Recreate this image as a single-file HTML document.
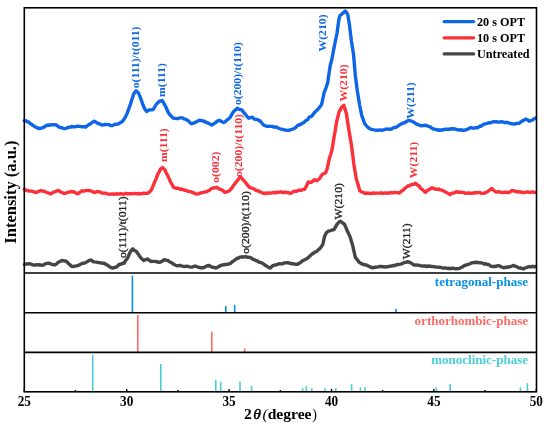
<!DOCTYPE html>
<html><head><meta charset="utf-8"><style>html,body{margin:0;padding:0;background:#fff;}svg{display:block;}</style></head><body>
<svg width="550" height="427" viewBox="0 0 550 427">
<rect width="550" height="427" fill="#fff"/>
<g fill="none" stroke-width="3.4" stroke-linejoin="round" stroke-linecap="round">
<polyline stroke="#454545" points="24.5,264.5 26.0,264.0 27.6,264.0 29.1,263.7 30.6,264.0 32.1,264.7 33.6,265.0 35.1,265.1 36.7,264.6 38.2,265.0 40.0,264.8 41.8,265.5 43.6,264.9 45.5,263.7 47.0,263.4 48.5,263.3 50.0,263.5 51.5,264.4 53.0,264.5 54.5,265.0 56.4,264.0 58.2,262.3 60.0,261.4 61.8,260.5 63.6,260.9 65.5,261.0 66.8,261.8 68.2,263.2 70.0,264.9 71.8,266.3 73.3,266.5 74.9,266.1 76.4,265.9 77.9,265.5 79.4,264.9 80.9,264.1 82.4,263.2 84.0,263.3 85.5,262.6 87.0,261.8 88.5,260.8 90.0,260.1 91.5,260.3 93.0,261.6 94.5,261.9 96.3,262.1 98.2,262.6 100.0,262.6 101.5,263.1 103.0,263.2 104.5,263.2 106.0,264.6 107.6,265.2 109.1,266.3 110.9,267.5 112.7,268.1 114.2,267.5 115.8,267.3 117.3,266.3 119.4,264.3 120.9,264.3 122.5,263.3 124.0,263.4 125.9,260.2 127.8,257.7 129.2,254.2 130.6,251.2 132.8,248.9 134.5,250.5 136.2,251.2 138.1,253.9 140.0,256.8 141.8,258.8 143.7,260.5 145.6,259.6 147.5,259.0 149.3,260.3 151.2,261.5 152.8,261.4 154.3,261.4 155.9,261.5 157.8,262.0 159.6,262.4 161.2,261.5 162.7,260.9 164.3,259.6 166.2,260.2 168.0,260.5 169.9,262.0 171.8,262.8 173.7,264.3 175.5,265.2 176.9,265.8 178.3,265.7 179.8,265.3 181.2,265.8 182.6,266.2 184.0,266.4 185.4,266.5 186.8,266.2 188.7,266.7 190.5,267.1 192.4,267.0 194.2,266.2 196.1,266.2 198.1,267.2 200.0,267.7 201.8,267.8 203.6,267.7 205.4,266.8 207.3,265.8 209.1,265.5 210.7,266.5 212.3,267.2 213.9,267.1 215.5,268.1 217.0,267.6 218.5,266.6 220.0,265.9 221.8,265.1 223.7,264.8 225.5,264.5 227.3,264.3 229.1,264.0 230.9,263.2 232.4,261.6 234.0,260.8 235.5,259.5 237.0,258.3 238.5,258.2 240.0,257.2 241.8,256.8 243.7,257.1 245.5,256.5 247.3,257.3 249.1,257.3 250.9,257.7 252.4,259.1 254.0,259.4 255.5,260.5 257.0,260.7 258.5,261.8 260.0,262.3 261.8,262.9 263.7,264.2 265.5,265.5 267.0,266.3 268.5,267.3 270.0,268.1 271.5,266.8 273.0,265.6 274.5,265.0 276.3,264.9 278.2,264.0 280.0,263.7 281.5,263.9 282.9,263.6 284.4,262.9 285.8,262.8 287.3,262.6 289.1,263.0 290.9,263.5 292.7,263.7 294.3,264.0 295.9,264.2 297.5,264.3 299.1,263.3 300.6,262.4 302.2,260.9 303.8,260.2 305.3,259.4 306.9,258.7 308.8,257.2 310.6,255.3 312.2,254.0 313.7,253.0 315.3,252.1 316.9,251.3 318.4,249.7 320.0,248.4 321.4,246.5 322.8,244.6 324.6,236.2 326.5,232.5 328.4,231.1 330.3,230.6 332.1,230.0 334.0,229.6 335.4,227.2 336.8,224.6 338.5,222.5 340.2,221.2 341.6,222.2 342.9,223.2 344.3,224.0 345.7,226.9 347.1,230.6 348.5,233.5 349.9,236.2 351.3,240.9 352.7,245.6 354.1,251.8 355.5,257.7 357.4,259.9 359.3,262.4 360.9,263.4 362.4,264.1 364.0,264.7 365.6,264.8 367.1,265.3 368.7,266.2 370.2,266.9 371.8,267.6 373.3,267.7 374.9,267.2 376.6,267.1 378.2,266.9 379.9,266.5 381.3,266.5 382.7,266.7 384.1,266.8 385.5,267.1 387.0,266.7 388.6,266.6 390.1,266.1 391.6,266.0 393.4,265.5 395.1,265.5 396.9,264.5 398.6,264.6 400.4,264.2 401.8,263.9 403.3,263.0 404.7,262.4 406.2,262.4 407.6,261.6 409.1,262.1 410.5,262.7 412.0,263.6 413.4,264.6 414.9,265.1 416.6,264.9 418.4,265.3 420.1,265.5 421.9,266.1 423.6,266.0 425.3,266.0 427.0,266.5 428.7,266.0 430.4,266.2 432.1,266.6 433.8,266.5 435.5,267.1 437.3,267.1 439.0,267.2 440.8,267.4 442.5,268.0 444.1,268.1 445.8,267.9 447.5,268.5 449.1,268.3 450.6,268.7 452.1,268.1 453.6,268.3 455.2,268.8 456.7,268.7 458.2,268.6 459.7,268.3 461.2,267.3 462.7,266.8 464.2,265.7 465.8,265.1 467.3,264.6 469.1,264.2 470.9,263.2 472.7,262.7 474.6,262.5 476.4,262.3 478.0,262.5 479.5,262.7 481.1,262.9 482.7,263.2 484.2,264.0 485.8,263.8 487.3,264.6 489.1,264.8 490.9,266.3 492.7,266.5 494.5,266.5 496.4,266.3 498.2,265.5 499.8,266.0 501.4,267.0 502.9,267.5 504.5,267.7 506.0,267.1 507.6,267.3 509.1,266.8 510.6,266.6 512.1,266.0 513.6,265.4 515.1,266.2 516.7,266.7 518.2,267.7 520.0,268.0 521.8,268.3 523.6,269.0 525.1,267.9 526.7,267.6 528.2,266.8 529.7,266.5 531.1,267.0 532.6,266.2 534.0,266.9 535.5,266.5"/>
<polyline stroke="#fb3038" points="24.4,189.3 26.2,190.3 28.0,190.8 29.8,191.0 31.6,191.1 33.5,191.6 35.3,192.5 37.1,192.1 38.9,191.3 40.7,190.4 42.2,191.0 43.6,191.1 45.1,191.7 46.9,192.5 48.7,193.2 50.5,193.8 52.0,193.2 53.6,192.1 55.1,191.7 56.7,191.0 58.2,190.4 60.0,191.5 61.8,192.7 63.6,193.2 65.1,193.4 66.5,192.7 68.0,192.4 69.5,192.0 70.9,191.5 72.4,191.7 74.2,192.0 76.0,193.1 77.8,193.8 79.3,192.6 80.7,191.7 82.2,190.8 83.8,191.1 85.5,190.6 87.1,190.6 88.7,190.4 90.5,190.9 92.4,191.4 94.2,192.5 95.6,192.1 97.1,191.6 98.5,191.7 100.3,192.1 102.0,193.0 103.8,193.1 105.5,193.1 107.3,193.8 109.0,194.2 110.8,194.1 112.5,194.0 114.3,194.2 116.0,193.8 117.6,194.0 119.3,194.0 120.9,193.6 122.5,194.1 124.2,194.1 125.8,193.3 127.5,193.9 129.1,193.6 130.8,193.8 132.4,193.5 134.1,193.6 135.7,193.5 137.3,193.9 139.0,193.5 140.7,193.8 142.3,193.5 143.9,193.2 145.6,193.4 147.2,193.3 148.8,192.7 150.2,191.1 151.7,189.5 153.1,185.9 154.6,182.2 156.1,178.9 157.5,174.9 159.0,172.2 160.5,169.1 162.6,167.6 164.8,169.8 166.2,172.7 167.7,175.6 169.1,178.6 170.6,182.2 172.1,184.6 173.5,187.3 175.3,188.0 177.2,188.3 178.6,188.3 180.1,189.3 181.6,189.0 183.0,189.5 184.5,190.3 185.9,190.2 187.4,191.2 188.8,191.4 190.3,191.6 191.9,192.2 193.6,192.9 195.2,193.6 196.8,194.1 198.5,193.8 200.1,193.1 201.8,192.6 203.4,192.4 204.9,191.9 206.4,191.7 207.9,190.9 209.4,190.2 211.2,188.7 213.0,188.0 214.8,187.9 216.6,187.3 218.1,188.2 219.5,189.1 221.0,189.5 222.5,190.2 223.9,191.7 225.4,192.4 226.9,191.6 228.3,191.6 230.1,189.9 231.9,188.0 233.7,185.2 235.5,182.9 237.0,180.7 238.4,179.4 239.9,177.1 241.4,177.8 242.8,179.3 244.7,181.5 246.5,183.6 248.2,186.0 250.0,187.8 251.5,188.0 253.0,188.5 254.5,189.2 255.9,190.3 257.3,190.7 259.1,191.4 261.0,192.2 262.8,193.1 264.5,193.6 266.0,193.0 267.4,193.2 268.9,192.9 270.3,193.2 271.8,192.9 273.3,192.4 274.7,193.0 276.2,192.1 277.6,192.5 279.1,192.2 280.6,191.8 282.0,192.1 283.5,192.7 284.9,192.1 286.4,192.5 287.8,192.4 289.3,193.1 290.7,193.2 292.2,192.4 293.6,191.5 295.1,191.2 296.6,191.4 298.0,190.5 299.4,190.2 300.9,190.4 302.7,189.7 304.5,189.3 306.7,185.6 308.2,182.0 309.6,182.3 311.1,182.3 312.6,181.3 314.0,179.8 315.4,180.0 316.9,180.8 318.4,179.5 319.8,178.4 321.2,175.8 322.7,174.0 324.1,173.5 325.6,173.0 327.1,168.9 329.3,158.7 331.6,151.6 332.9,144.4 334.1,136.8 335.4,129.6 336.6,122.0 339.0,112.2 340.2,110.1 341.5,107.3 343.9,105.3 345.1,109.6 346.4,113.4 347.6,121.7 348.8,129.4 350.1,137.0 351.3,144.2 352.6,154.0 353.8,163.8 356.2,178.6 358.0,184.5 359.9,190.9 361.5,191.9 363.2,192.4 364.8,193.4 366.5,193.0 368.1,193.3 369.8,193.3 371.4,193.6 373.1,192.9 374.7,193.3 376.3,193.1 378.0,193.1 379.6,193.1 381.2,192.8 382.9,193.5 384.6,192.9 386.2,193.2 387.9,193.0 389.5,193.1 391.1,192.5 392.8,192.9 394.4,192.4 396.0,192.6 397.6,192.5 399.3,193.1 401.0,191.4 402.6,190.6 404.6,188.5 406.6,187.0 408.0,185.9 409.3,185.7 410.7,184.9 412.3,184.4 414.0,184.3 415.6,183.3 417.2,184.9 418.9,185.7 420.1,187.8 421.4,189.0 422.8,189.9 424.1,191.2 425.5,192.3 427.1,190.8 428.7,189.8 430.4,188.8 432.0,187.7 433.6,188.5 435.3,189.0 437.0,189.3 438.6,189.0 440.2,189.9 441.9,190.1 443.5,191.0 444.9,191.6 446.2,192.4 447.6,193.1 450.0,194.5 451.5,193.5 452.9,193.0 454.4,192.8 455.8,192.0 457.3,191.8 458.9,192.3 460.6,192.2 462.2,192.3 463.9,192.7 465.5,193.3 467.1,193.1 468.6,193.0 470.2,193.3 471.8,193.3 473.4,193.0 475.0,192.7 476.6,192.8 478.2,192.4 479.7,192.4 481.2,193.4 482.7,193.3 484.5,193.1 486.4,192.2 488.2,191.3 490.0,189.8 491.8,188.5 493.6,190.2 495.5,191.8 497.1,192.0 498.6,191.7 500.2,192.2 501.8,192.4 503.4,192.5 505.0,192.3 506.6,192.3 508.2,192.7 510.0,191.9 511.8,190.5 513.4,190.7 515.0,191.2 516.6,191.9 518.2,191.8 519.8,192.0 521.4,191.9 522.9,192.7 524.5,192.4 526.1,192.2 527.7,191.9 529.3,192.4 530.9,192.2 532.4,191.9 534.0,192.2 535.5,192.4"/>
<polyline stroke="#0e66e6" points="24.3,120.6 25.8,120.7 27.2,121.8 28.7,122.0 30.1,123.4 31.6,124.2 33.0,125.6 34.8,126.6 36.7,127.5 38.5,128.5 40.3,128.2 42.2,127.9 44.0,127.2 45.5,126.1 46.9,125.3 48.4,125.0 50.0,125.2 51.7,124.7 53.4,124.9 55.0,124.6 56.4,125.0 57.9,126.3 59.3,127.2 60.7,127.8 62.2,127.8 63.6,128.5 65.2,128.6 66.9,128.2 68.5,127.1 70.2,127.2 71.8,126.5 73.5,126.8 75.1,126.9 76.7,126.3 78.5,126.4 80.2,126.4 82.0,126.8 83.7,126.6 85.5,127.2 87.0,125.9 88.5,125.0 90.0,124.0 91.4,123.1 92.8,122.0 94.2,121.3 96.1,122.2 98.0,123.5 99.9,124.0 101.8,125.0 103.6,124.8 105.5,124.5 107.3,124.6 108.9,124.5 110.4,125.6 112.0,125.6 113.5,125.0 115.0,124.3 116.8,124.2 118.5,123.9 120.0,122.8 121.4,122.2 122.9,120.8 124.4,118.6 126.7,114.5 129.0,108.1 130.2,104.9 131.4,101.1 133.7,94.0 134.9,92.1 136.1,90.8 138.4,92.9 139.6,95.6 140.8,98.7 143.1,105.2 144.9,109.3 146.6,111.4 147.8,110.8 149.0,109.9 150.5,109.9 152.0,109.8 153.5,109.2 154.9,106.5 156.4,104.0 157.9,102.9 159.3,101.2 160.8,101.0 162.2,100.5 163.6,102.8 165.1,105.5 166.6,108.8 168.0,112.0 169.4,114.2 170.9,115.7 172.4,117.3 173.8,118.3 175.3,118.4 176.7,118.6 178.2,118.6 179.6,117.9 181.1,117.9 182.5,117.9 184.0,118.9 185.4,119.2 186.9,120.0 188.4,120.9 189.8,122.5 191.3,123.7 192.7,123.4 194.2,122.9 195.6,122.3 197.5,121.2 199.4,120.3 200.8,120.5 202.3,120.8 203.7,121.0 205.2,122.0 206.6,122.4 208.1,123.1 209.9,124.0 211.7,125.0 213.6,123.9 215.4,122.8 216.8,121.5 218.3,120.7 219.7,120.3 221.6,121.6 223.4,122.5 224.9,122.0 226.3,120.6 228.1,119.2 229.9,117.7 231.4,115.1 232.8,112.6 234.3,110.9 235.7,109.7 237.2,108.3 238.6,109.2 240.1,109.5 241.5,109.7 243.3,111.9 245.2,114.1 247.0,116.5 248.8,118.2 250.7,117.5 252.5,117.3 254.6,119.2 256.1,119.4 257.5,119.5 258.8,120.6 260.0,120.8 261.8,123.0 263.5,125.0 265.2,125.7 267.0,126.4 268.8,126.2 270.5,126.4 272.3,126.4 274.1,127.2 275.8,126.8 277.6,127.7 279.3,128.5 281.1,129.1 282.8,129.4 284.4,130.0 285.9,130.1 287.4,130.4 289.0,130.3 290.8,129.7 292.5,129.2 294.3,128.5 295.8,127.3 297.2,125.8 298.7,125.0 300.4,124.5 302.2,123.3 303.9,122.4 305.7,120.8 307.5,119.8 309.2,117.1 310.5,116.7 311.8,116.2 313.1,114.4 314.5,112.7 316.2,110.8 318.0,109.2 319.8,106.9 321.5,104.8 322.9,98.7 324.1,92.5 325.9,88.1 327.7,82.8 328.9,74.1 330.3,65.3 331.7,60.0 333.2,52.2 334.7,44.3 335.9,38.7 337.1,32.8 338.8,19.7 339.9,15.6 341.4,14.5 342.9,13.1 344.1,12.1 345.3,11.1 346.6,12.5 347.8,14.8 349.4,24.6 351.4,41.0 353.5,54.1 355.3,75.0 357.2,90.0 358.4,97.3 359.6,105.0 361.9,116.2 363.3,119.7 364.7,123.7 366.5,125.8 368.4,127.8 370.0,128.8 371.5,129.3 373.1,129.7 375.0,130.1 376.8,130.3 378.7,130.2 380.1,129.9 381.5,130.3 382.9,130.0 384.3,129.7 385.7,129.2 387.1,129.1 388.6,129.0 390.0,129.3 391.4,129.1 392.8,128.1 394.2,127.5 395.6,127.4 397.5,126.4 399.3,125.0 401.2,124.0 403.1,123.0 405.0,122.7 406.9,121.2 408.7,120.3 410.5,120.9 412.4,121.4 414.3,122.4 416.2,124.0 418.1,124.5 420.0,125.5 421.6,125.7 423.2,125.5 424.9,125.3 426.5,125.5 428.1,126.3 429.8,126.7 431.5,127.9 433.1,128.8 434.9,129.3 436.7,129.6 438.5,130.4 440.0,129.8 441.6,130.3 443.1,129.7 444.7,129.3 446.2,129.3 447.8,129.3 449.4,129.4 451.1,128.6 452.7,129.0 454.4,128.8 456.0,129.2 457.6,129.9 459.3,130.0 461.1,129.8 462.9,130.3 464.7,130.2 466.4,129.7 468.0,129.0 469.6,128.1 471.3,127.7 472.9,128.1 474.6,128.0 476.2,127.7 477.8,127.7 479.4,126.5 481.1,126.0 482.8,124.8 484.4,124.0 486.2,123.6 488.0,123.0 489.8,122.7 491.4,122.5 493.1,121.8 494.8,121.7 496.4,121.6 498.0,122.1 499.6,122.1 501.3,121.7 502.9,122.0 504.7,122.6 506.6,122.3 508.4,122.7 510.2,123.5 512.0,123.8 513.8,124.0 515.6,123.7 517.5,123.4 519.3,123.4 521.0,121.7 522.6,120.8 524.2,120.2 525.8,119.0 527.5,119.7 529.1,121.2 530.7,120.7 532.4,120.0 534.0,118.9 535.6,118.0"/>
</g>
<g stroke-width="1.6">
<line x1="132.4" y1="275.6" x2="132.4" y2="312.8" stroke="#0590e8"/>
<line x1="225.8" y1="306.1" x2="225.8" y2="312.8" stroke="#0590e8"/>
<line x1="234.7" y1="304.9" x2="234.7" y2="312.8" stroke="#0590e8"/>
<line x1="396" y1="308.8" x2="396" y2="312.8" stroke="#0590e8"/>
<line x1="137.8" y1="315.1" x2="137.8" y2="352.4" stroke="#ff6a66"/>
<line x1="211.8" y1="331.8" x2="211.8" y2="352.4" stroke="#ff6a66"/>
<line x1="244.7" y1="348.4" x2="244.7" y2="352.4" stroke="#ff6a66"/>
<line x1="92.7" y1="354.8" x2="92.7" y2="391.8" stroke="#48ced8"/>
<line x1="160.8" y1="364.1" x2="160.8" y2="391.8" stroke="#48ced8"/>
<line x1="215.8" y1="380" x2="215.8" y2="391.8" stroke="#48ced8"/>
<line x1="220.7" y1="381.5" x2="220.7" y2="391.8" stroke="#48ced8"/>
<line x1="240" y1="381.5" x2="240" y2="391.8" stroke="#48ced8"/>
<line x1="251.6" y1="386" x2="251.6" y2="391.8" stroke="#48ced8"/>
<line x1="302.7" y1="388.2" x2="302.7" y2="391.8" stroke="#48ced8"/>
<line x1="306.4" y1="386" x2="306.4" y2="391.8" stroke="#48ced8"/>
<line x1="311.8" y1="388.2" x2="311.8" y2="391.8" stroke="#48ced8"/>
<line x1="325.1" y1="388.2" x2="325.1" y2="391.8" stroke="#48ced8"/>
<line x1="335.8" y1="388.2" x2="335.8" y2="391.8" stroke="#48ced8"/>
<line x1="351.6" y1="384.2" x2="351.6" y2="391.8" stroke="#48ced8"/>
<line x1="360.4" y1="387.3" x2="360.4" y2="391.8" stroke="#48ced8"/>
<line x1="364.9" y1="387.3" x2="364.9" y2="391.8" stroke="#48ced8"/>
<line x1="436.3" y1="387.3" x2="436.3" y2="391.8" stroke="#48ced8"/>
<line x1="450.2" y1="384" x2="450.2" y2="391.8" stroke="#48ced8"/>
<line x1="520.4" y1="387.5" x2="520.4" y2="391.8" stroke="#48ced8"/>
<line x1="527.4" y1="383.2" x2="527.4" y2="391.8" stroke="#48ced8"/>
</g>
<g stroke="#000" stroke-width="1.6" fill="none">
<rect x="24.3" y="7.8" width="512.2" height="384"/>
<line x1="24.3" y1="273" x2="536.5" y2="273"/>
<line x1="24.3" y1="312.8" x2="536.5" y2="312.8"/>
<line x1="24.3" y1="352.4" x2="536.5" y2="352.4"/>
<line x1="24.3" y1="391.8" x2="24.3" y2="388.9" stroke-width="1.4"/>
<line x1="75.5" y1="391.8" x2="75.5" y2="390.0" stroke-width="1.4"/>
<line x1="126.7" y1="391.8" x2="126.7" y2="388.9" stroke-width="1.4"/>
<line x1="177.9" y1="391.8" x2="177.9" y2="390.0" stroke-width="1.4"/>
<line x1="229.1" y1="391.8" x2="229.1" y2="388.9" stroke-width="1.4"/>
<line x1="280.3" y1="391.8" x2="280.3" y2="390.0" stroke-width="1.4"/>
<line x1="331.5" y1="391.8" x2="331.5" y2="388.9" stroke-width="1.4"/>
<line x1="382.7" y1="391.8" x2="382.7" y2="390.0" stroke-width="1.4"/>
<line x1="433.9" y1="391.8" x2="433.9" y2="388.9" stroke-width="1.4"/>
<line x1="485.1" y1="391.8" x2="485.1" y2="390.0" stroke-width="1.4"/>
<line x1="536.3" y1="391.8" x2="536.3" y2="388.9" stroke-width="1.4"/>
</g>
<g font-family="Liberation Serif, serif" font-weight="bold" font-size="13.2" text-anchor="middle" fill="#000">
<text transform="translate(24.3,405.8) scale(1,1.15)">25</text>
<text transform="translate(126.7,405.8) scale(1,1.15)">30</text>
<text transform="translate(229.1,405.8) scale(1,1.15)">35</text>
<text transform="translate(331.5,405.8) scale(1,1.15)">40</text>
<text transform="translate(433.9,405.8) scale(1,1.15)">45</text>
<text transform="translate(536.3,405.8) scale(1,1.15)">50</text>
</g>
<text x="244" y="419.4" font-family="Liberation Serif, serif" font-weight="bold" font-size="15.6">2<tspan dx="1.4" font-style="italic" font-weight="normal" stroke="#000" stroke-width="0.45">θ</tspan><tspan dx="1.6" font-style="italic" font-weight="normal">(</tspan>degree<tspan dx="0.6" font-weight="normal" font-size="14">)</tspan></text>
<text transform="translate(15.7,243.7) rotate(-90)" font-family="Liberation Serif, serif" font-weight="bold" font-size="16.5">Intensity (a.u.)</text>
<g stroke-width="3.3" stroke-linecap="round">
<line x1="444.2" y1="21.6" x2="473.6" y2="21.6" stroke="#0e66e6"/>
<line x1="444.2" y1="37.8" x2="473.6" y2="37.8" stroke="#fb3038"/>
<line x1="444.2" y1="53.9" x2="473.6" y2="53.9" stroke="#454545"/>
</g>
<g font-family="Liberation Serif, serif" font-weight="bold" font-size="12.2" fill="#000">
<text x="477" y="25.9">20 s OPT</text>
<text x="477" y="42.1">10 s OPT</text>
<text x="477" y="58.4">Untreated</text>
</g>
<g font-family="Liberation Serif, serif" font-weight="bold" font-size="13" text-anchor="end">
<text x="528" y="285.9" fill="#0590e8">tetragonal-phase</text>
<text x="528" y="324.6" fill="#ff6a66">orthorhombic-phase</text>
<text x="528" y="363.8" fill="#48ced8">monoclinic-phase</text>
</g>
<text transform="translate(138.6,88.3) rotate(-90) scale(1,0.88)" font-family="Liberation Serif, serif" font-weight="bold" font-size="11.7" fill="#0e66e6">o(111)/t(011)</text>
<text transform="translate(165.1,97.0) rotate(-90) scale(1,0.88)" font-family="Liberation Serif, serif" font-weight="bold" font-size="11.7" fill="#0e66e6">m(111)</text>
<text transform="translate(241.4,105.1) rotate(-90) scale(1,0.88)" font-family="Liberation Serif, serif" font-weight="bold" font-size="11.7" fill="#0e66e6">o(200)/t(110)</text>
<text transform="translate(325.5,51.5) rotate(-90) scale(1,0.88)" font-family="Liberation Serif, serif" font-weight="bold" font-size="11.7" fill="#0e66e6">W(210)</text>
<text transform="translate(413.9,118.7) rotate(-90) scale(1,0.88)" font-family="Liberation Serif, serif" font-weight="bold" font-size="11.7" fill="#0e66e6">W(211)</text>
<text transform="translate(166.8,162.1) rotate(-90) scale(1,0.88)" font-family="Liberation Serif, serif" font-weight="bold" font-size="11.7" fill="#fb3038">m(111)</text>
<text transform="translate(218.9,182.8) rotate(-90) scale(1,0.88)" font-family="Liberation Serif, serif" font-weight="bold" font-size="11.7" fill="#fb3038">o(002)</text>
<text transform="translate(242.3,177.0) rotate(-90) scale(1,0.88)" font-family="Liberation Serif, serif" font-weight="bold" font-size="11.7" fill="#fb3038">o(200)/t(110)</text>
<text transform="translate(347.0,101.5) rotate(-90) scale(1,0.88)" font-family="Liberation Serif, serif" font-weight="bold" font-size="11.7" fill="#fb3038">W(210)</text>
<text transform="translate(417.4,178.2) rotate(-90) scale(1,0.88)" font-family="Liberation Serif, serif" font-weight="bold" font-size="11.7" fill="#fb3038">W(211)</text>
<text transform="translate(125.8,258.0) rotate(-90) scale(1,0.88)" font-family="Liberation Serif, serif" font-weight="normal" font-size="11.7" fill="#1e1e1e" stroke="#1e1e1e" stroke-width="0.35">o(111)/t(011)</text>
<text transform="translate(248.6,253.8) rotate(-90) scale(1,0.88)" font-family="Liberation Serif, serif" font-weight="normal" font-size="11.7" fill="#1e1e1e" stroke="#1e1e1e" stroke-width="0.35">o(200)/t(110)</text>
<text transform="translate(342.2,219.5) rotate(-90) scale(1,0.88)" font-family="Liberation Serif, serif" font-weight="normal" font-size="11.7" fill="#1e1e1e" stroke="#1e1e1e" stroke-width="0.35">W(210)</text>
<text transform="translate(410.0,259.2) rotate(-90) scale(1,0.88)" font-family="Liberation Serif, serif" font-weight="normal" font-size="11.7" fill="#1e1e1e" stroke="#1e1e1e" stroke-width="0.35">W(211)</text>
</svg>
</body></html>
